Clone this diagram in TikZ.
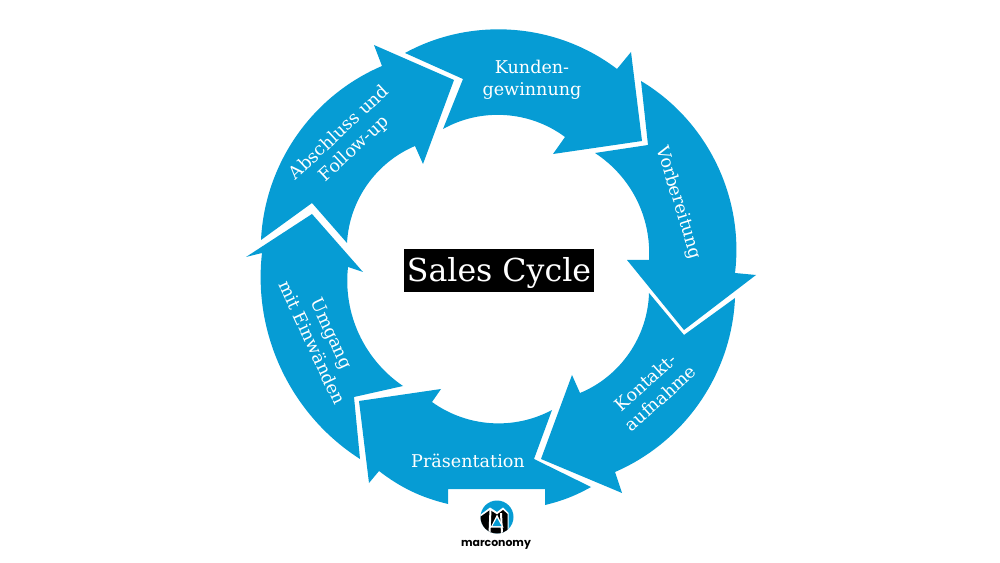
\documentclass[tikz,border=0pt]{standalone}
\usepackage{fontspec}
\setmainfont{DejaVu Serif}
\newfontfamily\logofont{Poppins}
\definecolor{cycleblue}{RGB}{6,156,212}
\tikzset{
    arrowpart/.style={fill=cycleblue, draw=none},
    outerarc/.style={bend left=#1, looseness=0.92},
    innerarc/.style={bend right=#1, looseness=0.92},
    steplabel/.style={text=white, align=center, font=\fontsize{10}{12.4}\selectfont},
}

\begin{document}
\begin{tikzpicture}[x=0.02cm, y=-0.02cm]
    \useasboundingbox (0,0) rectangle (1000,563);

    % Kundengewinnung
    \fill[arrowpart] (405,53) to[outerarc=33] (617,69) -- (631,52) -- (642,141) -- (553,154) -- (565,137)
        to[innerarc=33] (443,129) -- (463,79) -- cycle;
    % Vorbereitung
    \fill[arrowpart] (641,81) to[outerarc=33] (735,273) -- (756,275) -- (684,330) -- (627,260) -- (649,260)
        to[innerarc=30] (595,153) -- (648,145) -- cycle;
    % Kontaktaufnahme
    \fill[arrowpart] (735,298) to[outerarc=32] (615,472) -- (622,493) -- (541,459) -- (572,375) -- (580,393)
        to[innerarc=33] (649,293) -- (684,335) -- cycle;
    % Praesentation
    \fill[arrowpart] (591,487) to[outerarc=8] (545,505) -- (545,489) -- (448,489) -- (448,504)
        to[outerarc=12] (379,471) -- (369,483) -- (359,401) -- (441,389) -- (432,402)
        to[innerarc=32] (552,410) -- (534,459) -- cycle;
    % Umgang mit Einwaenden
    \fill[arrowpart] (360,459) to[outerarc=32] (262,253) -- (246,257) -- (312,214) -- (363,272) -- (348,267)
        to[innerarc=31] (403,386) -- (354,397) -- cycle;
    % Abschluss und Follow-up
    \fill[arrowpart] (261,240) to[outerarc=32] (382,66) -- (374,45) -- (454,80) -- (423,164) -- (415,146)
        to[innerarc=32] (347,243) -- (312,203) -- cycle;

    % Labels on the arrows
    \node[steplabel] (kunden) at (532,80) {Kunden-\\gewinnung};
    \node[steplabel, rotate=-73] (vorbereitung) at (678.5,203) {Vorbereitung};
    \node[steplabel, rotate=42] (kontakt) at (653,390) {Kontakt-\\aufnahme};
    \node[steplabel] (praesentation) at (468,461) {Präsentation};
    \node[steplabel, rotate=-65] (umgang) at (322,338) {Umgang\\mit Einwänden};
    \node[steplabel, rotate=43] (abschluss) at (347,141) {Abschluss und\\Follow-up};

    % Title in the middle
    \node[fill=black, text=white, minimum width=3.82cm, minimum height=0.86cm, inner sep=0pt,
        text height=16.5pt, text depth=4.5pt, font=\fontsize{18}{20}\selectfont] (title) at (499,270.5) {Sales Cycle};

    % Logo
    \begin{scope}
        \clip (497,517) circle[radius=16.5];
        \fill[cycleblue] (480,500) rectangle (514,534);
        \fill[white] (480,515) -- (490,507.5) -- (497,512) -- (503,507.5) -- (508.5,513) -- (508.5,534) -- (480,534) -- cycle;
        \fill[black] (480,517) -- (490,510) -- (497,514.5) -- (503,510) -- (507.5,514) -- (507.5,534) -- (480,534) -- cycle;
        \fill[white] (489.5,509) -- (491.5,509) -- (490.5,534) -- (488.5,534) -- cycle;
        \fill[white] (500,513) -- (502,513) -- (503,534) -- (501,534) -- cycle;
        \fill[white] (497,514.5) -- (490.5,527.5) -- (503.5,527.5) -- cycle;
        \fill[cycleblue] (497,518) -- (492.5,526) -- (501.5,526) -- cycle;
    \end{scope}
    \node[font=\logofont\bfseries\fontsize{6.2}{8}\selectfont] (logotext) at (496,544.5) {marconomy};
\end{tikzpicture}
\end{document}
